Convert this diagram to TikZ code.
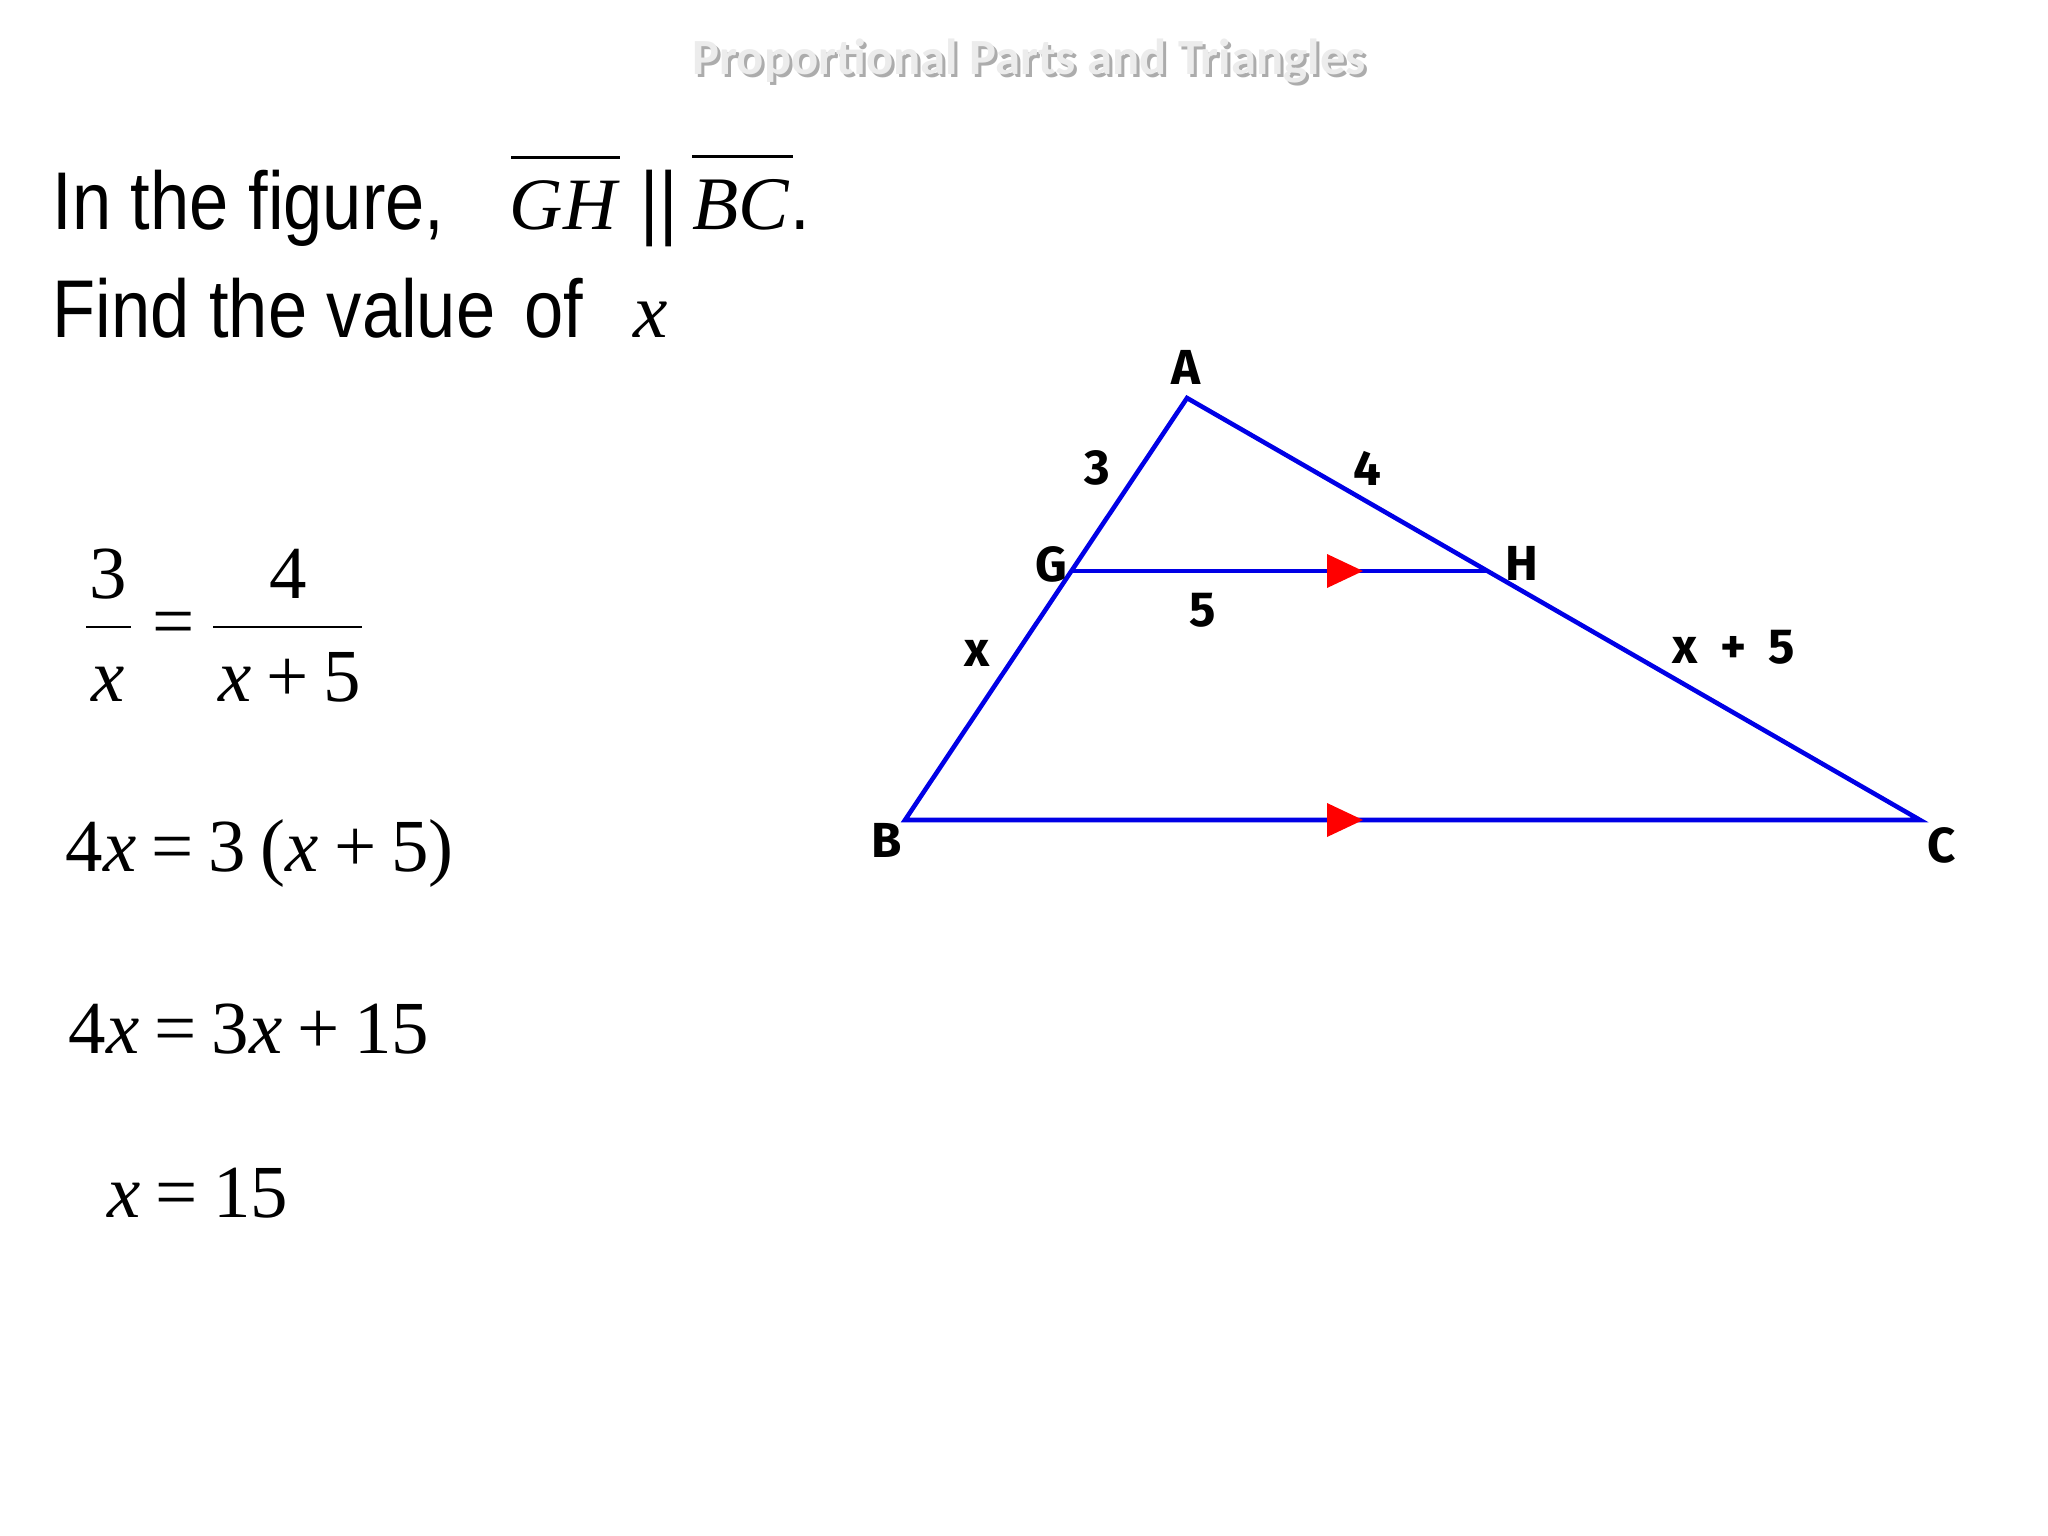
\documentclass[tikz,border=0pt]{standalone}
\usepackage{fontspec}
\setmainfont{Liberation Sans}
\newfontfamily\slidefont[FakeStretch=0.86]{Liberation Sans}
\newfontfamily\eqfont{Liberation Serif}
\newfontfamily\titlefont{Carlito}
\newfontfamily\labelfont{Fira Sans}
\usetikzlibrary{calc}
\definecolor{lineblue}{RGB}{0,0,230}
\definecolor{titlegray}{RGB}{236,236,236}
\tikzstyle{side}=[draw=lineblue, line width=1.3pt]
\tikzstyle{lbl}=[font=\labelfont\bfseries\fontsize{14}{16}\selectfont, inner sep=0pt]
\tikzstyle{prompt}=[font=\slidefont\fontsize{23.3}{26}\selectfont, anchor=base west, inner sep=0pt]
\tikzstyle{eq}=[font=\eqfont\fontsize{21.3}{24}\selectfont, anchor=base west, inner sep=0pt]
\tikzstyle{fracbar}=[draw=black, line width=0.8pt]
\tikzstyle{heading}=[font=\titlefont\bfseries\fontsize{14.4}{16}\selectfont, inner sep=0pt]
\newcommand{\vx}{\textit{x}}
\newcommand{\gap}{\hspace{0.2em}}
% red parallel mark, tip pointing right
\newcommand{\parmark}[1]
{
  \fill[red] ($(#1)+(-18,-17)$) -- ($(#1)+(18,0)$) -- ($(#1)+(-18,17)$) -- cycle;
}

\begin{document}
\begin{tikzpicture}[x=0.01cm, y=-0.01cm]
	\fill[white] (0,0) rectangle (2048,1536);
	\useasboundingbox (0,0) rectangle (2048,1536);

	% title
	\node[heading, text=gray!65] (titleshadow) at (1032,64) {Proportional Parts and Triangles};
	\node[heading, text=titlegray] (title) at (1029,61) {Proportional Parts and Triangles};

	% question
	\node[prompt] (line1) at (52,229) {In the figure,};
	\node[prompt, font=\eqfont\itshape\fontsize{21}{26}\selectfont] (gh) at (509,229) {GH};
	\node[prompt] (par) at (640,229) {||};
	\node[prompt, font=\eqfont\itshape\fontsize{21.5}{26}\selectfont] (bc) at (692,229) {BC};
	\node[prompt] (stop) at (bc.base east) {.};
	\draw[fracbar] ($(gh.north west)+(2,-22)$) -- ($(gh.north east)+(3,-22)$);
	\draw[fracbar] ($(bc.north west)+(0,-22)$) -- ($(bc.north east)+(3,-22)$);
	\node[prompt] (line2) at (52,337) {Find the value};
	\node[prompt] (of) at (524,337) {of};
	\node[prompt, font=\eqfont\itshape\fontsize{22}{26}\selectfont] (xvar) at (633,337) {x};

	% working
	\node[eq, anchor=base] (n3) at (108,598) {3};
	\node[eq, anchor=base] (d3) at (108,701) {\vx};
	\draw[fracbar] (86,627) -- (131,627);
	\node[eq, anchor=base] (eqsign) at (174,646) {=};
	\node[eq, anchor=base] (n4) at (288,598) {4};
	\node[eq, anchor=base] (d4) at (290,701) {\vx\gap+\gap5};
	\draw[fracbar] (213,627) -- (362,627);
	\node[eq] (step2) at (65,871) {4\vx\gap=\gap3\gap(\vx\gap+\gap5)};
	\node[eq] (step3) at (68,1053) {4\vx\gap=\gap3\vx\gap+\gap15};
	\node[eq] (step4) at (107,1217) {\vx\gap=\gap15};

	% triangle
	\coordinate (A) at (1187,398);
	\coordinate (B) at (905,820);
	\coordinate (C) at (1920,820);
	\coordinate (G) at (1071,571);
	\coordinate (H) at (1489,571);
	\draw[side] (A) -- (B) -- (C) -- cycle;
	\draw[side] (G) -- (H);
	\coordinate (m1) at (1345,571);
	\coordinate (m2) at (1345,820);
	\parmark{m1}
	\parmark{m2}

	\node[lbl] (lA) at (1186,367) {A};
	\node[lbl] (lB) at (887,840) {B};
	\node[lbl] (lC) at (1942,845) {C};
	\node[lbl] (lG) at (1051,564) {G};
	\node[lbl] (lH) at (1522,563) {H};
	\node[lbl] (l3) at (1097,468) {3};
	\node[lbl] (l4) at (1367,468) {4};
	\node[lbl] (l5) at (1203,610) {5};
	\node[lbl] (lx) at (977,653) {x};
	\node[lbl] (lx5) at (1734,647) {x\hspace{0.45em}+\hspace{0.45em}5};

\end{tikzpicture}
\end{document}
